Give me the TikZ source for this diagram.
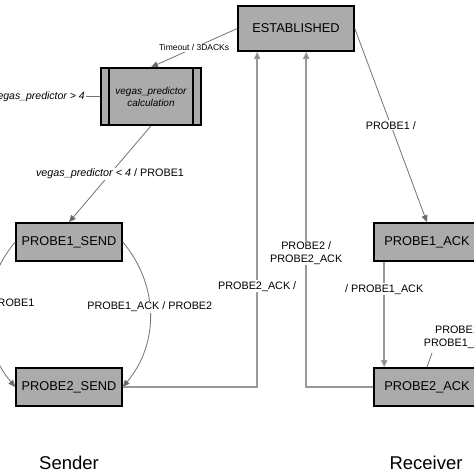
\documentclass[tikz,border=0pt]{standalone}
\usepackage{fontspec}
\setmainfont{Liberation Sans}
\usetikzlibrary{arrows.meta, positioning}
\tikzset{
  st/.style = {draw=black, fill=black!33, text=black, line width=1.6pt,
    minimum width=106pt, minimum height=38pt, inner sep=0pt,
    font=\fontsize{12.8}{13}\selectfont},
  pr/.style = {st, minimum width=100pt, minimum height=57pt, align=center,
    font=\fontsize{10}{12}\selectfont\itshape},
  lg/.style = {draw=black!40, line width=1.5pt,
    -{Triangle[length=7pt, width=6pt, fill=black!60]}},
  lf/.style = {draw=black!55, line width=0.8pt,
    -{Triangle[length=7pt, width=6pt, fill=black!60]}},
  rt/.style = {fill=white, inner sep=1pt, align=center,
    font=\fontsize{10.8}{12.8}\selectfont},
  tit/.style = {font=\fontsize{18.5}{20}\selectfont}
}
\begin{document}
\begin{tikzpicture}[x=1pt, y=-1pt]
  \useasboundingbox [fill=white] (0,0) rectangle (474,474);

  % states
  \node [st, minimum width=116pt, minimum height=45pt] (est) at (296,28.5) {ESTABLISHED};
  \node [pr] (vp) at (151,96.5) {vegas\_predictor\\calculation};
  \draw [line width=1.6pt] ([xshift=9pt]vp.north west) -- ([xshift=9pt]vp.south west);
  \draw [line width=1.6pt] ([xshift=-9pt]vp.north east) -- ([xshift=-9pt]vp.south east);
  \node [st] (p1s) at (69,242) {PROBE1\_SEND};
  \node [st] (p2s) at (69,387) {PROBE2\_SEND};
  \node [st] (p1a) at (427,242) {PROBE1\_ACK};
  \node [st] (p2a) at (427,387) {PROBE2\_ACK};

  % sender side
  \draw [lf] (est.west) -- node [rt, font=\fontsize{8.5}{10}\selectfont] {Timeout / 3DACKs} (vp.north);
  \coordinate (vl) at (-60,96.5);
  \draw [draw=black!55, line width=0.8pt] (vp.west) -- (vl);
  \node [rt, anchor=east, font=\fontsize{10.5}{12.5}\selectfont\itshape] (vgt) at (86,96.5) {vegas\_predictor > 4};
  \draw [lf] (vp.south) -- node [rt] {\textit{vegas\_predictor < 4} / PROBE1} (p1s.north);
  \draw [lf] (p1s.east) to [bend left=40] node [rt, pos=0.45] {PROBE1\_ACK / PROBE2} (p2s.east);
  \draw [lf] (p1s.west) to [bend right=40] node [rt, pos=0.42] {Timeout / PROBE1} (p2s.west);
  \draw [lg] (p2s.east) -| node [rt, pos=0.65] {PROBE2\_ACK /} ([xshift=20pt]est.south west);

  % receiver side
  \draw [lf] (est.east) -- node [rt] {PROBE1 /} (p1a.north);
  \draw [lg] ([xshift=11pt]p1a.south west) -- node [rt, pos=0.26] {/ PROBE1\_ACK} ([xshift=11pt]p2a.north west);
  \draw [lg] (p2a.west) -| node [rt, pos=0.7] {PROBE2 /\\PROBE2\_ACK} ([xshift=69pt]est.south west);
  \node [rt] (ploop) at (460,337) {PROBE1 /\\PROBE1\_ACK};
  \coordinate (tk) at (432,353);
  \draw [draw=black!55, line width=0.8pt] (p2a.north) -- (tk);

  % titles
  \node [tit] (snd) at (69,463) {Sender};
  \node [tit] (rcv) at (426,463) {Receiver};
\end{tikzpicture}
\end{document}
